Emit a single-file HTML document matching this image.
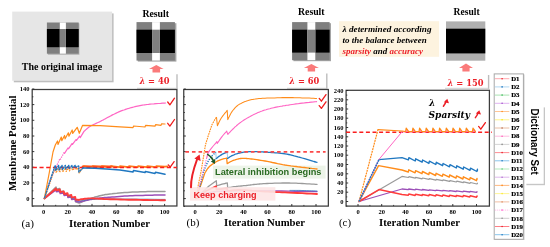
<!DOCTYPE html>
<html><head><meta charset="utf-8"><title>Figure</title><style>html,body{margin:0;padding:0;background:#fff}svg{display:block}</style></head><body>
<svg width="550" height="247" viewBox="0 0 550 247">
<rect width="550" height="247" fill="#fff"/>
<rect x="13.8" y="13.4" width="99.8" height="68.9" fill="#bebebe"/>
<rect x="12.2" y="11.6" width="99.9" height="69.2" fill="#e6e6e6"/>
<rect x="47.8" y="23.4" width="31.6" height="31.4" fill="#b4b4b4"/>
<rect x="46.9" y="22.5" width="31.8" height="31.2" fill="#7f7f7f"/>
<rect x="46.9" y="29.0" width="31.8" height="18.2" fill="#000"/>
<rect x="59.8" y="22.5" width="6.1000000000000085" height="31.2" fill="#fff"/>
<rect x="59.8" y="29.0" width="6.1000000000000085" height="18.2" fill="#7f7f7f"/>
<text x="62" y="69.6" font-family='"Liberation Serif",serif' font-size="10.5" font-weight="bold" font-style="normal" fill="#000" text-anchor="middle" textLength="80.5" lengthAdjust="spacingAndGlyphs" >The original image</text>
<text x="155.7" y="17" font-family='"Liberation Serif",serif' font-size="10.5" font-weight="bold" font-style="normal" fill="#000" text-anchor="middle" textLength="26.6" lengthAdjust="spacingAndGlyphs" >Result</text>
<rect x="137.8" y="23.2" width="38.6" height="38.4" fill="#a4a4a4"/>
<rect x="136.5" y="22.1" width="38.4" height="38.5" fill="#7f7f7f"/>
<rect x="136.5" y="29.700000000000003" width="38.4" height="23.3" fill="#000"/>
<rect x="152.1" y="22.1" width="7.800000000000011" height="38.5" fill="#fff"/>
<rect x="152.1" y="29.700000000000003" width="7.800000000000011" height="23.3" fill="#7f7f7f"/>
<text x="311.3" y="15.4" font-family='"Liberation Serif",serif' font-size="10.5" font-weight="bold" font-style="normal" fill="#000" text-anchor="middle" textLength="26.6" lengthAdjust="spacingAndGlyphs" >Result</text>
<rect x="293.4" y="23.2" width="37.6" height="38" fill="#a4a4a4"/>
<rect x="292.1" y="22.1" width="37.5" height="38.1" fill="#7f7f7f"/>
<rect x="292.1" y="29.700000000000003" width="37.5" height="22.900000000000002" fill="#000"/>
<rect x="307.4" y="22.1" width="7.900000000000034" height="38.1" fill="#fff"/>
<rect x="307.4" y="29.700000000000003" width="7.900000000000034" height="22.900000000000002" fill="#7f7f7f"/>
<text x="466.6" y="15" font-family='"Liberation Serif",serif' font-size="10.5" font-weight="bold" font-style="normal" fill="#000" text-anchor="middle" textLength="26" lengthAdjust="spacingAndGlyphs" >Result</text>
<rect x="446" y="21.4" width="39.3" height="39.3" fill="#b0b0b0"/>
<rect x="446" y="28.7" width="39.3" height="24.699999999999996" fill="#000"/>
<path d="M156.3,65 L163.60000000000002,69 L160.10000000000002,69 L160.10000000000002,72.4 L152.5,72.4 L152.5,69 L149.0,69 Z" fill="#fa7a7a"/>
<path d="M311.4,64 L318.9,68 L315.09999999999997,68 L315.09999999999997,71.6 L307.7,71.6 L307.7,68 L303.9,68 Z" fill="#fa7a7a"/>
<path d="M466,63.6 L473,68 L469.6,68 L469.6,71.6 L462.4,71.6 L462.4,68 L459,68 Z" fill="#fa7a7a"/>
<rect x="136" y="74.2" width="41" height="14.799999999999997" fill="#fff"/>
<line x1="177" y1="74.2" x2="177" y2="89" stroke="#bdbdbd" stroke-width="1.4"/>
<line x1="137" y1="88.3" x2="177" y2="88.3" stroke="#cfcfcf" stroke-width="1"/>
<text x="139.4" y="84.4" font-family='"DejaVu Serif","Liberation Serif",serif' font-size="9.3" font-weight="bold" fill="#ec2028" textLength="30.099999999999994" lengthAdjust="spacingAndGlyphs"><tspan font-style="italic">λ</tspan> = 40</text>
<rect x="286" y="73.6" width="40.80000000000001" height="15.400000000000006" fill="#fff"/>
<line x1="326.8" y1="73.6" x2="326.8" y2="89" stroke="#bdbdbd" stroke-width="1.4"/>
<line x1="287" y1="88.3" x2="326.8" y2="88.3" stroke="#cfcfcf" stroke-width="1"/>
<text x="289.3" y="84.2" font-family='"DejaVu Serif","Liberation Serif",serif' font-size="9.3" font-weight="bold" fill="#ec2028" textLength="30.0" lengthAdjust="spacingAndGlyphs"><tspan font-style="italic">λ</tspan> = 60</text>
<rect x="444" y="75" width="44.60000000000002" height="14" fill="#fff"/>
<line x1="488.6" y1="75" x2="488.6" y2="89" stroke="#bdbdbd" stroke-width="1.4"/>
<line x1="445" y1="88.3" x2="488.6" y2="88.3" stroke="#cfcfcf" stroke-width="1"/>
<text x="447.6" y="85.6" font-family='"DejaVu Serif","Liberation Serif",serif' font-size="9.3" font-weight="bold" fill="#ec2028" textLength="36.0" lengthAdjust="spacingAndGlyphs"><tspan font-style="italic">λ</tspan> = 150</text>
<rect x="339" y="21.2" width="100.1" height="35.6" fill="#fdf3df"/>
<text x="342.6" y="31.6" font-family='"Liberation Serif",serif' font-size="9" font-weight="bold" font-style="italic" fill="#000" text-anchor="start" textLength="89" lengthAdjust="spacingAndGlyphs" >λ determined according</text>
<text x="342.6" y="42.8" font-family='"Liberation Serif",serif' font-size="9" font-weight="bold" font-style="italic" fill="#000" text-anchor="start" textLength="84.2" lengthAdjust="spacingAndGlyphs" >to the balance between</text>
<text x="342.6" y="54" font-family='"Liberation Serif",serif' font-size="9" font-weight="bold" font-style="italic" textLength="80.4" lengthAdjust="spacingAndGlyphs"><tspan fill="#ec2028">sparsity</tspan> and <tspan fill="#ec2028">accuracy</tspan></text>
<rect x="32.2" y="89.5" width="144.7" height="116.5" fill="#fff" stroke="#3c3c3c" stroke-width="1.25"/>
<line x1="32.2" y1="198.6" x2="34.300000000000004" y2="198.6" stroke="#222" stroke-width="0.9"/>
<text x="29.6" y="200.7" font-family='"Liberation Serif",serif' font-size="6.5" font-weight="bold" font-style="normal" fill="#000" text-anchor="end" >0</text>
<line x1="32.2" y1="182.9" x2="34.300000000000004" y2="182.9" stroke="#222" stroke-width="0.9"/>
<text x="29.6" y="185.04" font-family='"Liberation Serif",serif' font-size="6.5" font-weight="bold" font-style="normal" fill="#000" text-anchor="end" >20</text>
<line x1="32.2" y1="167.3" x2="34.300000000000004" y2="167.3" stroke="#222" stroke-width="0.9"/>
<text x="29.6" y="169.38" font-family='"Liberation Serif",serif' font-size="6.5" font-weight="bold" font-style="normal" fill="#000" text-anchor="end" >40</text>
<line x1="32.2" y1="151.6" x2="34.300000000000004" y2="151.6" stroke="#222" stroke-width="0.9"/>
<text x="29.6" y="153.72" font-family='"Liberation Serif",serif' font-size="6.5" font-weight="bold" font-style="normal" fill="#000" text-anchor="end" >60</text>
<line x1="32.2" y1="136.0" x2="34.300000000000004" y2="136.0" stroke="#222" stroke-width="0.9"/>
<text x="29.6" y="138.05999999999997" font-family='"Liberation Serif",serif' font-size="6.5" font-weight="bold" font-style="normal" fill="#000" text-anchor="end" >80</text>
<line x1="32.2" y1="120.3" x2="34.300000000000004" y2="120.3" stroke="#222" stroke-width="0.9"/>
<text x="29.6" y="122.39999999999999" font-family='"Liberation Serif",serif' font-size="6.5" font-weight="bold" font-style="normal" fill="#000" text-anchor="end" >100</text>
<line x1="32.2" y1="104.6" x2="34.300000000000004" y2="104.6" stroke="#222" stroke-width="0.9"/>
<text x="29.6" y="106.73999999999998" font-family='"Liberation Serif",serif' font-size="6.5" font-weight="bold" font-style="normal" fill="#000" text-anchor="end" >120</text>
<line x1="32.2" y1="89.0" x2="34.300000000000004" y2="89.0" stroke="#222" stroke-width="0.9"/>
<text x="29.6" y="91.07999999999998" font-family='"Liberation Serif",serif' font-size="6.5" font-weight="bold" font-style="normal" fill="#000" text-anchor="end" >140</text>
<line x1="32.2" y1="206.4" x2="33.400000000000006" y2="206.4" stroke="#222" stroke-width="0.8"/>
<line x1="32.2" y1="190.8" x2="33.400000000000006" y2="190.8" stroke="#222" stroke-width="0.8"/>
<line x1="32.2" y1="175.1" x2="33.400000000000006" y2="175.1" stroke="#222" stroke-width="0.8"/>
<line x1="32.2" y1="159.4" x2="33.400000000000006" y2="159.4" stroke="#222" stroke-width="0.8"/>
<line x1="32.2" y1="143.8" x2="33.400000000000006" y2="143.8" stroke="#222" stroke-width="0.8"/>
<line x1="32.2" y1="128.1" x2="33.400000000000006" y2="128.1" stroke="#222" stroke-width="0.8"/>
<line x1="32.2" y1="112.5" x2="33.400000000000006" y2="112.5" stroke="#222" stroke-width="0.8"/>
<line x1="32.2" y1="96.8" x2="33.400000000000006" y2="96.8" stroke="#222" stroke-width="0.8"/>
<line x1="43.6" y1="206" x2="43.6" y2="203.9" stroke="#222" stroke-width="0.9"/>
<text x="43.6" y="214.3" font-family='"Liberation Serif",serif' font-size="6.5" font-weight="bold" font-style="normal" fill="#000" text-anchor="middle" >0</text>
<line x1="67.8" y1="206" x2="67.8" y2="203.9" stroke="#222" stroke-width="0.9"/>
<text x="67.8" y="214.3" font-family='"Liberation Serif",serif' font-size="6.5" font-weight="bold" font-style="normal" fill="#000" text-anchor="middle" >20</text>
<line x1="92.0" y1="206" x2="92.0" y2="203.9" stroke="#222" stroke-width="0.9"/>
<text x="92.0" y="214.3" font-family='"Liberation Serif",serif' font-size="6.5" font-weight="bold" font-style="normal" fill="#000" text-anchor="middle" >40</text>
<line x1="116.2" y1="206" x2="116.2" y2="203.9" stroke="#222" stroke-width="0.9"/>
<text x="116.2" y="214.3" font-family='"Liberation Serif",serif' font-size="6.5" font-weight="bold" font-style="normal" fill="#000" text-anchor="middle" >60</text>
<line x1="140.4" y1="206" x2="140.4" y2="203.9" stroke="#222" stroke-width="0.9"/>
<text x="140.4" y="214.3" font-family='"Liberation Serif",serif' font-size="6.5" font-weight="bold" font-style="normal" fill="#000" text-anchor="middle" >80</text>
<line x1="164.6" y1="206" x2="164.6" y2="203.9" stroke="#222" stroke-width="0.9"/>
<text x="164.6" y="214.3" font-family='"Liberation Serif",serif' font-size="6.5" font-weight="bold" font-style="normal" fill="#000" text-anchor="middle" >100</text>
<line x1="55.7" y1="206" x2="55.7" y2="204.8" stroke="#222" stroke-width="0.8"/>
<line x1="79.9" y1="206" x2="79.9" y2="204.8" stroke="#222" stroke-width="0.8"/>
<line x1="104.1" y1="206" x2="104.1" y2="204.8" stroke="#222" stroke-width="0.8"/>
<line x1="128.3" y1="206" x2="128.3" y2="204.8" stroke="#222" stroke-width="0.8"/>
<line x1="152.5" y1="206" x2="152.5" y2="204.8" stroke="#222" stroke-width="0.8"/>
<text transform="translate(16,143.2) rotate(-90)" text-anchor="middle" font-family='"Liberation Serif",serif' font-size="10.5" font-weight="bold" textLength="95.5" lengthAdjust="spacingAndGlyphs">Membrane Potential</text>
<text x="21.6" y="227" font-family='"Liberation Serif",serif' font-size="10.5" font-weight="normal" font-style="normal" fill="#000" text-anchor="start" textLength="12.4" lengthAdjust="spacingAndGlyphs" >(a)</text>
<text x="69" y="226.9" font-family='"Liberation Serif",serif' font-size="11" font-weight="bold" font-style="normal" fill="#000" text-anchor="start" textLength="81" lengthAdjust="spacingAndGlyphs" >Iteration Number</text>
<polyline points="44.4,198.4 56.0,187.0 56.4,189.0 59.8,188.6 60.2,191.6 63.7,191.2 64.1,194.2 67.5,193.8 67.9,196.8 71.3,196.3 71.7,199.3 75.2,198.9 75.6,201.9 79.0,203.0 79.5,203.0 80.3,202.6 81.4,202.2 82.7,201.6 84.1,201.0 85.6,200.3 87.2,199.7 88.6,199.1 90.0,198.6 91.3,198.2 92.5,197.8 93.8,197.4 95.0,197.0 96.3,196.7 97.5,196.4 98.8,196.1 100.0,195.8 101.2,195.5 102.3,195.3 103.3,195.1 104.4,194.8 105.5,194.6 106.8,194.4 108.3,194.2 110.0,194.0 112.0,193.8 114.3,193.5 116.8,193.3 119.4,193.0 122.1,192.8 124.8,192.6 127.4,192.4 130.0,192.2 132.5,192.1 135.1,192.0 137.7,191.9 140.3,191.8 142.9,191.7 145.4,191.7 147.7,191.6 150.0,191.6 152.2,191.6 154.5,191.5 156.7,191.5 158.8,191.5 160.7,191.4 162.4,191.4 163.9,191.4 165.0,191.4" fill="none" stroke="#9a9a9a" stroke-width="1.5" stroke-linejoin="round" stroke-linecap="round" />
<polyline points="44.4,198.4 56.0,190.0 56.4,191.7 59.8,191.2 60.2,193.6 63.7,193.1 64.1,195.5 67.5,195.1 67.9,197.4 71.3,197.0 71.7,199.4 75.2,198.9 75.6,201.3 79.0,202.0 79.5,202.0 80.3,201.8 81.4,201.5 82.7,201.2 84.1,200.9 85.6,200.5 87.2,200.2 88.6,199.9 90.0,199.6 91.3,199.4 92.5,199.1 93.8,198.9 95.0,198.7 96.3,198.5 97.5,198.3 98.8,198.2 100.0,198.0 101.2,197.9 102.3,197.8 103.3,197.7 104.4,197.6 105.5,197.5 106.8,197.4 108.3,197.3 110.0,197.2 112.0,197.0 114.3,196.9 116.8,196.7 119.4,196.5 122.1,196.3 124.8,196.1 127.4,195.9 130.0,195.8 132.5,195.7 135.1,195.6 137.7,195.5 140.3,195.4 142.9,195.4 145.4,195.3 147.7,195.3 150.0,195.2 152.2,195.2 154.5,195.1 156.7,195.1 158.8,195.1 160.7,195.0 162.4,195.0 163.9,195.0 165.0,195.0" fill="none" stroke="#9b4fb8" stroke-width="1.5" stroke-linejoin="round" stroke-linecap="round" />
<polyline points="44.4,198.4 56.0,189.0 56.4,190.7 59.8,190.2 60.2,192.6 63.7,192.1 64.1,194.5 67.5,194.1 67.9,196.4 71.3,196.0 71.7,198.4 75.2,197.9 75.6,200.3 79.0,201.0 79.5,201.0 80.2,200.9 81.2,200.7 82.3,200.5 83.5,200.2 84.9,200.0 86.5,199.8 88.2,199.6 90.0,199.4 91.8,199.3 93.5,199.2 95.3,199.1 97.2,199.1 99.5,199.0 102.3,199.0 105.8,199.0 110.0,199.0 115.6,199.0 122.6,199.1 130.5,199.1 138.8,199.2 146.9,199.2 154.3,199.3 160.5,199.4 165.0,199.4" fill="none" stroke="#1f77c0" stroke-width="0.8" stroke-linejoin="round" stroke-linecap="round" />
<polyline points="44.4,198.4 56.0,188.6 56.4,190.3 59.8,189.5 60.2,192.1 63.7,191.4 64.1,194.0 67.5,193.2 67.9,195.8 71.3,195.0 71.7,197.6 75.2,196.9 75.6,199.5 79.0,200.0 79.5,199.6 80.2,199.5 81.2,199.3 82.3,199.2 83.5,199.0 84.9,198.8 86.5,198.6 88.2,198.5 90.0,198.4 92.0,198.4 94.1,198.5 96.4,198.6 98.8,198.7 101.4,198.8 104.1,199.0 107.0,199.1 110.0,199.2 113.3,199.3 116.9,199.4 120.7,199.5 124.7,199.6 128.7,199.7 132.6,199.8 136.4,199.8 140.0,199.9 143.5,200.0 147.2,200.0 150.8,200.1 154.4,200.1 157.7,200.1 160.6,200.2 163.1,200.2 165.0,200.2" fill="none" stroke="#ff3b3b" stroke-width="1.9" stroke-linejoin="round" stroke-linecap="round" />
<polyline points="44.4,198.4 50.0,181.0 56.5,166.0 60.0,158.4 60.5,159.2 64.0,152.6 64.5,153.4" fill="none" stroke="#ff66c4" stroke-width="1.2" stroke-linejoin="round" stroke-linecap="butt" stroke-dasharray="1.3 1.1" />
<polyline points="64.5,153.4 68.0,148.0 68.5,148.8 72.0,143.6 72.5,144.4 76.0,139.6 76.5,140.4 79.6,136.2 80.2,137.6 84.0,131.4 84.0,131.4 84.4,131.0 85.0,130.5 85.6,129.9 86.4,129.2 87.2,128.5 88.1,127.8 89.0,127.0 90.0,126.4 91.1,125.8 92.2,125.2 93.5,124.6 94.8,124.0 96.1,123.4 97.4,122.8 98.7,122.2 100.0,121.6 101.2,120.9 102.5,120.3 103.8,119.6 105.0,118.9 106.2,118.2 107.5,117.5 108.8,116.9 110.0,116.2 111.2,115.6 112.5,114.9 113.8,114.3 115.0,113.7 116.2,113.1 117.5,112.5 118.8,111.9 120.0,111.4 121.2,110.9 122.5,110.4 123.8,110.0 125.0,109.6 126.2,109.1 127.5,108.7 128.8,108.4 130.0,108.0 131.2,107.6 132.5,107.3 133.8,107.0 135.0,106.7 136.2,106.4 137.5,106.1 138.8,105.8 140.0,105.6 141.2,105.4 142.4,105.2 143.5,105.0 144.7,104.8 145.8,104.7 147.1,104.5 148.5,104.4 150.0,104.2 151.8,104.0 153.9,103.9 156.1,103.7 158.4,103.5 160.6,103.4 162.7,103.2 164.4,103.1 165.6,103.0" fill="none" stroke="#ff66c4" stroke-width="1.2" stroke-linejoin="round" stroke-linecap="round" />
<polyline points="44.4,198.4 49.4,172.0 53.0,152.0 55.3,145.0 57.5,141.0 58.0,144.4 61.3,137.1 61.8,140.6 64.6,135.5 65.1,138.8 68.4,132.8 68.9,136.2 72.2,130.0 72.7,133.4 77.2,127.3 79.3,133.3 82.6,125.3 100.0,125.6 120.0,126.8 133.0,127.6 133.6,126.0 145.0,127.0 145.6,125.4 155.0,126.2 155.6,124.6 161.0,125.4 161.6,123.8 165.0,124.0" fill="none" stroke="#ff8c1a" stroke-width="1.2" stroke-linejoin="round" stroke-linecap="round" />
<polyline points="44.4,198.4 49.6,184.0 53.0,173.6 55.6,167.2 55.6,167.2 56.1,172.8 59.0,167.2 59.5,172.4 62.3,167.2 62.8,172.0 65.7,167.2 66.2,171.4 69.0,167.2 69.5,170.8 72.3,167.2 72.8,170.2 75.7,167.2 76.2,169.6 79.0,167.8 79.2,173.0 83.2,166.8" fill="none" stroke="#ff8c1a" stroke-width="1.2" stroke-linejoin="round" stroke-linecap="butt" stroke-dasharray="1.3 0.9" />
<polyline points="83.2,166.7 83.6,166.2 92.3,167.1 92.7,166.2 101.4,167.1 101.8,166.2 110.5,167.1 110.9,166.2 119.6,167.1 120.0,166.2 128.6,167.1 129.0,166.2 137.7,167.1 138.1,166.2 146.8,167.1 147.2,166.2 155.9,167.1 156.3,166.2 165.0,166.6 167.4,166.4" fill="none" stroke="#ff7a1a" stroke-width="1.7" stroke-linejoin="round" stroke-linecap="round" />
<polyline points="82.6,166.6 112.0,166.6" fill="none" stroke="#ff5a1a" stroke-width="2.0" stroke-linejoin="round" stroke-linecap="round" />
<line x1="32.800000000000004" y1="167.45" x2="176.9" y2="167.45" stroke="#fa1e1e" stroke-width="1.4" stroke-dasharray="4.1 2.6"/>
<polyline points="44.4,198.4 49.0,184.0 52.4,173.6 55.3,165.4 55.3,165.4 55.8,170.4 58.6,165.4 59.1,170.0 62.0,165.4 62.5,169.6 65.3,165.4 65.8,169.0 68.7,165.4 69.2,168.4 72.0,165.4 72.5,167.8 75.4,165.4 75.9,167.2 78.7,166.0 78.8,172.0 83.2,167.8" fill="none" stroke="#1f77c0" stroke-width="1.4" stroke-linejoin="round" stroke-linecap="butt" stroke-dasharray="2.4 0.5" />
<polyline points="83.2,167.9 95.0,168.3 110.0,169.3 120.0,170.0 133.0,172.0 133.5,170.6 145.0,172.6 145.5,171.4 155.0,173.4 155.5,172.2 165.0,174.3" fill="none" stroke="#1f77c0" stroke-width="1.5" stroke-linejoin="round" stroke-linecap="round" />
<path d="M167.70000000000002,102.0 L169.9,104.8 L174.5,98.2" fill="none" stroke="#f01c1c" stroke-width="1.3" stroke-linecap="round" stroke-linejoin="round"/>
<path d="M167.70000000000002,123.3 L169.9,126.1 L174.5,119.5" fill="none" stroke="#f01c1c" stroke-width="1.3" stroke-linecap="round" stroke-linejoin="round"/>
<path d="M168.32999999999998,164.82 L170.2,167.2 L174.10999999999999,161.58999999999997" fill="none" stroke="#f01c1c" stroke-width="1.3" stroke-linecap="round" stroke-linejoin="round"/>
<rect x="183.75" y="89.5" width="144.60000000000002" height="116.6" fill="#fff" stroke="#3c3c3c" stroke-width="1.25"/>
<line x1="183.75" y1="198.6" x2="185.85" y2="198.6" stroke="#222" stroke-width="0.9"/>
<line x1="183.75" y1="182.9" x2="185.85" y2="182.9" stroke="#222" stroke-width="0.9"/>
<line x1="183.75" y1="167.3" x2="185.85" y2="167.3" stroke="#222" stroke-width="0.9"/>
<line x1="183.75" y1="151.6" x2="185.85" y2="151.6" stroke="#222" stroke-width="0.9"/>
<line x1="183.75" y1="136.0" x2="185.85" y2="136.0" stroke="#222" stroke-width="0.9"/>
<line x1="183.75" y1="120.3" x2="185.85" y2="120.3" stroke="#222" stroke-width="0.9"/>
<line x1="183.75" y1="104.6" x2="185.85" y2="104.6" stroke="#222" stroke-width="0.9"/>
<line x1="183.75" y1="89.0" x2="185.85" y2="89.0" stroke="#222" stroke-width="0.9"/>
<line x1="183.75" y1="206.4" x2="184.95" y2="206.4" stroke="#222" stroke-width="0.8"/>
<line x1="183.75" y1="190.8" x2="184.95" y2="190.8" stroke="#222" stroke-width="0.8"/>
<line x1="183.75" y1="175.1" x2="184.95" y2="175.1" stroke="#222" stroke-width="0.8"/>
<line x1="183.75" y1="159.4" x2="184.95" y2="159.4" stroke="#222" stroke-width="0.8"/>
<line x1="183.75" y1="143.8" x2="184.95" y2="143.8" stroke="#222" stroke-width="0.8"/>
<line x1="183.75" y1="128.1" x2="184.95" y2="128.1" stroke="#222" stroke-width="0.8"/>
<line x1="183.75" y1="112.5" x2="184.95" y2="112.5" stroke="#222" stroke-width="0.8"/>
<line x1="183.75" y1="96.8" x2="184.95" y2="96.8" stroke="#222" stroke-width="0.8"/>
<line x1="195.0" y1="206.1" x2="195.0" y2="204.0" stroke="#222" stroke-width="0.9"/>
<text x="195.0" y="214.3" font-family='"Liberation Serif",serif' font-size="6.5" font-weight="bold" font-style="normal" fill="#000" text-anchor="middle" >0</text>
<line x1="219.2" y1="206.1" x2="219.2" y2="204.0" stroke="#222" stroke-width="0.9"/>
<text x="219.2" y="214.3" font-family='"Liberation Serif",serif' font-size="6.5" font-weight="bold" font-style="normal" fill="#000" text-anchor="middle" >20</text>
<line x1="243.4" y1="206.1" x2="243.4" y2="204.0" stroke="#222" stroke-width="0.9"/>
<text x="243.4" y="214.3" font-family='"Liberation Serif",serif' font-size="6.5" font-weight="bold" font-style="normal" fill="#000" text-anchor="middle" >40</text>
<line x1="267.6" y1="206.1" x2="267.6" y2="204.0" stroke="#222" stroke-width="0.9"/>
<text x="267.6" y="214.3" font-family='"Liberation Serif",serif' font-size="6.5" font-weight="bold" font-style="normal" fill="#000" text-anchor="middle" >60</text>
<line x1="291.8" y1="206.1" x2="291.8" y2="204.0" stroke="#222" stroke-width="0.9"/>
<text x="291.8" y="214.3" font-family='"Liberation Serif",serif' font-size="6.5" font-weight="bold" font-style="normal" fill="#000" text-anchor="middle" >80</text>
<line x1="316.0" y1="206.1" x2="316.0" y2="204.0" stroke="#222" stroke-width="0.9"/>
<text x="316.0" y="214.3" font-family='"Liberation Serif",serif' font-size="6.5" font-weight="bold" font-style="normal" fill="#000" text-anchor="middle" >100</text>
<line x1="207.1" y1="206.1" x2="207.1" y2="204.9" stroke="#222" stroke-width="0.8"/>
<line x1="231.3" y1="206.1" x2="231.3" y2="204.9" stroke="#222" stroke-width="0.8"/>
<line x1="255.5" y1="206.1" x2="255.5" y2="204.9" stroke="#222" stroke-width="0.8"/>
<line x1="279.7" y1="206.1" x2="279.7" y2="204.9" stroke="#222" stroke-width="0.8"/>
<line x1="303.9" y1="206.1" x2="303.9" y2="204.9" stroke="#222" stroke-width="0.8"/>
<text x="186.6" y="226.4" font-family='"Liberation Serif",serif' font-size="10.5" font-weight="normal" font-style="normal" fill="#000" text-anchor="start" textLength="12.8" lengthAdjust="spacingAndGlyphs" >(b)</text>
<text x="224" y="225.5" font-family='"Liberation Serif",serif' font-size="11" font-weight="bold" font-style="normal" fill="#000" text-anchor="start" textLength="81" lengthAdjust="spacingAndGlyphs" >Iteration Number</text>
<rect x="213" y="165.6" width="112.6" height="13" fill="#edf4e9"/>
<polyline points="196.0,198.4 208.7,186.2 216.3,180.7 216.7,185.8 216.7,185.8 217.7,185.5 219.0,185.1 220.6,184.6 222.0,184.2 223.4,183.8 225.0,183.5 226.3,183.2 227.3,183.0 227.7,187.8 227.7,187.8 228.2,187.7 228.9,187.6 229.8,187.4 230.7,187.3 231.7,187.1 232.8,186.9 233.9,186.7 235.0,186.6 236.1,186.5 237.3,186.3 238.6,186.2 239.8,186.1 241.1,186.0 242.4,185.9 243.7,185.7 245.0,185.6 246.2,185.5 247.5,185.3 248.8,185.1 250.0,185.0 251.2,184.8 252.5,184.7 253.8,184.5 255.0,184.4 256.2,184.3 257.3,184.2 258.3,184.1 259.4,184.0 260.5,183.9 261.8,183.8 263.3,183.7 265.0,183.6 267.1,183.5 269.4,183.4 272.0,183.3 274.7,183.2 277.4,183.1 280.1,183.1 282.7,183.0 285.0,183.0 287.1,183.0 289.1,183.0 290.9,183.1 292.7,183.1 294.4,183.2 296.2,183.2 298.1,183.3 300.0,183.4 302.1,183.5 304.5,183.6 307.0,183.8 309.4,183.9 311.8,184.1 313.9,184.2 315.7,184.3 317.0,184.4" fill="none" stroke="#9a9a9a" stroke-width="1.3" stroke-linejoin="round" stroke-linecap="round" />
<polyline points="196.0,198.4 205.0,193.6 205.8,193.4 206.7,193.2 207.7,193.0 209.0,192.7 210.4,192.4 212.1,192.1 213.9,191.8 216.0,191.6 218.3,191.4 220.9,191.3 223.8,191.1 226.8,191.0 230.0,190.8 233.3,190.7 236.6,190.7 240.0,190.6 243.3,190.6 246.7,190.6 250.1,190.6 253.6,190.6 257.2,190.6 261.2,190.7 265.4,190.7 270.0,190.8 275.4,190.9 281.7,191.0 288.4,191.1 295.4,191.2 302.1,191.3 308.2,191.4 313.3,191.5 317.0,191.6" fill="none" stroke="#9b4fb8" stroke-width="1.4" stroke-linejoin="round" stroke-linecap="round" />
<polyline points="290.0,190.4 290.7,190.4 291.6,190.4 292.7,190.4 293.9,190.4 295.3,190.4 296.8,190.4 298.3,190.4 300.0,190.4 301.9,190.5 304.2,190.5 306.6,190.6 309.1,190.7 311.6,190.8 313.8,190.9 315.6,190.9 317.0,191.0" fill="none" stroke="#1f77c0" stroke-width="0.7" stroke-linejoin="round" stroke-linecap="round" />
<polyline points="196.0,198.4 206.0,191.0 216.0,186.2 216.5,189.5 227.0,188.4 227.5,190.6 227.5,191.0 228.4,190.9 229.5,190.8 230.7,190.6 232.2,190.4 233.8,190.2 235.7,190.1 237.8,190.0 240.0,190.0 242.6,190.1 245.5,190.2 248.7,190.4 252.0,190.7 255.4,190.9 258.8,191.2 262.0,191.4 265.0,191.6 267.7,191.7 270.1,191.8 272.3,191.9 274.6,192.0 276.8,192.1 279.3,192.2 282.0,192.3 285.0,192.4 288.6,192.6 292.9,192.8 297.5,193.0 302.2,193.2 306.8,193.5 311.0,193.7 314.4,193.9 317.0,194.0" fill="none" stroke="#ff3b3b" stroke-width="1.8" stroke-linejoin="round" stroke-linecap="round" />
<polyline points="196.0,198.4 200.8,185.0 205.0,172.6 205.0,172.6 205.7,171.6 206.6,170.1 207.7,168.5 209.0,167.0 210.5,165.6 212.3,164.3 214.1,163.1 215.8,162.0 217.2,161.2 218.5,160.6 219.7,160.1 221.0,159.6 222.5,159.1 224.1,158.6 225.6,158.3 226.6,158.0 227.2,163.6 227.2,163.6 227.6,163.4 228.0,163.1 228.6,162.8 229.2,162.4 229.9,162.0 230.6,161.7 231.3,161.3 232.0,161.0 232.7,160.7 233.4,160.4 234.2,160.1 235.0,159.9 235.8,159.6 236.5,159.4 237.3,159.2 238.0,159.0 238.7,158.9 239.3,158.7 239.9,158.6 240.4,158.5 241.0,158.5 241.6,158.4 242.3,158.4 243.0,158.4 243.7,158.4 244.4,158.4 245.1,158.4 245.9,158.4 246.7,158.5 247.6,158.6 248.7,158.7 250.0,158.8 251.5,159.0 253.1,159.2 254.8,159.4 256.7,159.7 258.7,160.0 260.7,160.3 262.8,160.6 265.0,161.0 267.3,161.4 269.8,161.9 272.4,162.5 275.0,163.0 277.6,163.6 280.2,164.1 282.7,164.6 285.0,165.0 287.1,165.3 289.1,165.6 290.9,165.9 292.7,166.1 294.4,166.3 296.2,166.5 298.1,166.8 300.0,167.0 302.1,167.3 304.5,167.5 307.0,167.8 309.4,168.1 311.8,168.4 313.9,168.6 315.7,168.8 317.0,169.0" fill="none" stroke="#ff8c1a" stroke-width="1.3" stroke-linejoin="round" stroke-linecap="round" />
<polyline points="196.0,198.4 200.3,185.0 203.4,172.0 203.4,172.0 204.0,170.4 205.0,168.1 206.0,165.6 207.0,163.4 208.0,161.6 208.9,160.0 209.9,158.4 211.0,157.0 212.3,155.6 213.7,154.2 214.9,153.0 215.8,152.2" fill="none" stroke="#1f77c0" stroke-width="1.4" stroke-linejoin="round" stroke-linecap="butt" stroke-dasharray="1.2 1.2" />
<polyline points="215.8,152.2 216.2,158.6" fill="none" stroke="#5aa9dc" stroke-width="0.6" stroke-linejoin="round" stroke-linecap="round" />
<polyline points="216.2,158.6 216.7,158.2 217.3,157.7 218.1,157.0 219.0,156.4 219.9,155.8 220.9,155.1 222.0,154.4 223.0,153.8 224.1,153.3 225.3,152.8 226.4,152.5 227.2,152.2" fill="none" stroke="#1f77c0" stroke-width="1.3" stroke-linejoin="round" stroke-linecap="round" />
<polyline points="227.2,152.2 227.6,158.4" fill="none" stroke="#5aa9dc" stroke-width="0.6" stroke-linejoin="round" stroke-linecap="round" />
<polyline points="227.6,158.4 227.9,158.2 228.2,158.0 228.6,157.7 229.0,157.4 229.5,157.1 230.0,156.8 230.5,156.5 231.0,156.2 231.5,155.9 232.1,155.6 232.7,155.3 233.3,155.1 234.0,154.8 234.6,154.5 235.3,154.2 236.0,154.0 236.7,153.8 237.4,153.6 238.1,153.4 238.9,153.2 239.6,153.0 240.4,152.8 241.2,152.6 242.0,152.5 242.8,152.4 243.6,152.2 244.4,152.1 245.2,152.0 246.0,151.9 246.9,151.8 247.9,151.8 249.0,151.7 250.2,151.7 251.5,151.6 252.9,151.6 254.3,151.7 255.8,151.7 257.2,151.7 258.6,151.8 260.0,151.8 261.3,151.8 262.5,151.9 263.6,152.0 264.8,152.0 265.9,152.1 267.2,152.2 268.5,152.3 270.0,152.4 271.6,152.5 273.4,152.6 275.3,152.8 277.2,152.9 279.2,153.1 281.1,153.3 283.1,153.5 285.0,153.8 286.9,154.1 288.7,154.5 290.5,154.9 292.4,155.4 294.2,155.9 296.1,156.3 298.0,156.9 300.0,157.4 302.1,158.0 304.5,158.7 307.0,159.4 309.4,160.1 311.8,160.8 313.9,161.5 315.7,162.0 317.0,162.4" fill="none" stroke="#1f77c0" stroke-width="1.3" stroke-linejoin="round" stroke-linecap="round" />
<line x1="183.75" y1="151.95" x2="325.6" y2="151.95" stroke="#fb4848" stroke-width="1.7" stroke-dasharray="3.6 2.95" stroke-dashoffset="4.9"/>
<polyline points="196.0,198.4 202.0,176.0 202.6,173.6 203.5,170.2 204.5,166.4 205.4,163.0 206.1,160.2 206.8,157.5" fill="none" stroke="#ff66c4" stroke-width="1.0" stroke-linejoin="round" stroke-linecap="butt" stroke-dasharray="1.2 1.2" />
<polyline points="206.8,157.5 207.5,154.9 208.4,152.6 209.7,150.4 211.3,148.4 212.8,146.5 214.1,145.0 215.1,143.8 215.9,142.8 216.5,142.0 216.9,141.5 217.2,143.5 217.2,143.5 218.1,142.2 219.3,140.4 220.7,138.4 222.0,136.6 223.3,135.0 224.7,133.4 225.9,132.1 226.7,131.1 227.8,134.4 227.8,134.4 228.2,134.0 228.7,133.4 229.4,132.7 230.1,132.0 230.8,131.2 231.6,130.4 232.3,129.7 233.0,129.0 233.6,128.4 234.2,127.8 234.8,127.2 235.4,126.6 236.1,126.1 236.7,125.5 237.3,125.0 238.0,124.4 238.7,123.8 239.4,123.3 240.1,122.7 240.9,122.2 241.6,121.6 242.4,121.1 243.2,120.5 244.0,120.0 244.8,119.5 245.7,119.0 246.6,118.4 247.4,117.9 248.3,117.4 249.2,116.9 250.1,116.5 251.0,116.0 251.9,115.5 252.8,115.1 253.6,114.6 254.5,114.2 255.4,113.8 256.2,113.4 257.1,113.0 258.0,112.6 258.9,112.2 259.7,111.9 260.5,111.6 261.3,111.2 262.2,110.9 263.0,110.6 264.0,110.3 265.0,110.0 266.1,109.7 267.3,109.3 268.5,109.0 269.8,108.7 271.1,108.3 272.4,108.0 273.7,107.7 275.0,107.4 276.2,107.1 277.4,106.9 278.5,106.7 279.7,106.5 280.9,106.3 282.1,106.1 283.5,105.8 285.0,105.6 286.6,105.3 288.4,105.1 290.2,104.8 292.1,104.5 294.0,104.2 296.0,103.9 298.0,103.7 300.0,103.4 302.1,103.1 304.4,102.9 306.8,102.6 309.2,102.4 311.5,102.1 313.6,101.9 315.3,101.7 316.6,101.6" fill="none" stroke="#ff66c4" stroke-width="1.1" stroke-linejoin="round" stroke-linecap="round" />
<polyline points="196.0,198.4 198.3,185.0 201.0,172.0 204.3,152.0 205.4,145.0 208.7,134.4 212.0,124.6 215.8,118.0 216.5,117.4" fill="none" stroke="#ff8c1a" stroke-width="1.1" stroke-linejoin="round" stroke-linecap="butt" stroke-dasharray="1.7 0.8" />
<polyline points="216.5,117.4 217.4,125.7 217.4,125.7 218.1,124.3 219.0,122.3 220.1,120.1 221.3,118.0 222.8,115.9 224.5,113.7 226.1,111.8 227.2,110.4 227.8,119.6 228.0,119.0 228.3,118.4 228.7,117.6 229.2,116.7 229.7,115.7 230.3,114.6 230.8,113.5 231.4,112.5 232.0,111.6 232.6,110.8 233.2,110.0 233.8,109.3 234.4,108.6 235.0,107.9 235.7,107.2 236.3,106.6 237.0,106.0 237.7,105.4 238.4,104.9 239.2,104.4 239.9,104.0 240.7,103.6 241.5,103.2 242.2,102.8 243.0,102.4 243.7,102.1 244.5,101.7 245.2,101.4 245.9,101.2 246.6,100.9 247.4,100.7 248.2,100.4 249.0,100.2 249.9,100.0 250.9,99.8 251.9,99.6 252.9,99.4 253.9,99.2 255.0,99.1 256.0,98.9 257.0,98.8 257.9,98.7 258.7,98.6 259.5,98.5 260.2,98.5 261.1,98.4 262.2,98.3 263.4,98.3 265.0,98.2 267.0,98.1 269.3,98.0 271.8,97.9 274.6,97.9 277.3,97.8 280.1,97.7 282.7,97.6 285.0,97.6 287.1,97.6 289.1,97.6 290.9,97.6 292.7,97.6 294.5,97.7 296.3,97.7 298.1,97.8 300.0,97.8 302.1,97.9 304.4,97.9 306.8,98.0 309.2,98.1 311.5,98.2 313.6,98.3 315.3,98.4 316.6,98.4" fill="none" stroke="#ff8c1a" stroke-width="1.05" stroke-linejoin="round" stroke-linecap="round" />
<rect x="190" y="187.2" width="85.4" height="13.4" fill="#fde6e6" fill-opacity="0.9"/>
<path d="M191,187.3 C190.8,180 192.4,172 197.2,159" fill="none" stroke="#ec2028" stroke-width="2" stroke-linecap="round"/>
<path d="M199.6,154.4 L200.6,161 L194.4,158.4 Z" fill="#ec2028"/>
<path d="M207.6,154.3 C210,155.6 212.4,158.4 213.4,160.6" fill="none" stroke="#1e5a28" stroke-width="1.5" stroke-linecap="round"/>
<path d="M214.9,164 L210.8,161.4 L215.4,158.8 Z" fill="#1e5a28"/>
<text x="215" y="175" font-family='"Liberation Sans",sans-serif' font-size="9.2" font-weight="bold" font-style="normal" fill="#2a6b22" text-anchor="start" textLength="106.5" lengthAdjust="spacingAndGlyphs" >Lateral inhibition begins</text>
<text x="193.4" y="198" font-family='"Liberation Sans",sans-serif' font-size="9" font-weight="bold" font-style="normal" fill="#ec2028" text-anchor="start" textLength="63.2" lengthAdjust="spacingAndGlyphs" >Keep charging</text>
<path d="M319.2,98.4 L321.4,101.2 L326.0,94.60000000000001" fill="none" stroke="#f01c1c" stroke-width="1.3" stroke-linecap="round" stroke-linejoin="round"/>
<path d="M319.2,105.60000000000001 L321.4,108.4 L326.0,101.80000000000001" fill="none" stroke="#f01c1c" stroke-width="1.3" stroke-linecap="round" stroke-linejoin="round"/>
<rect x="346.1" y="90.3" width="143.29999999999995" height="115.8" fill="#fff" stroke="#3c3c3c" stroke-width="1.25"/>
<line x1="346.1" y1="201.5" x2="348.20000000000005" y2="201.5" stroke="#222" stroke-width="0.9"/>
<text x="343.4" y="203.6" font-family='"Liberation Serif",serif' font-size="6.5" font-weight="bold" font-style="normal" fill="#000" text-anchor="end" >0</text>
<line x1="346.1" y1="192.2" x2="348.20000000000005" y2="192.2" stroke="#222" stroke-width="0.9"/>
<text x="343.4" y="194.35" font-family='"Liberation Serif",serif' font-size="6.5" font-weight="bold" font-style="normal" fill="#000" text-anchor="end" >20</text>
<line x1="346.1" y1="183.0" x2="348.20000000000005" y2="183.0" stroke="#222" stroke-width="0.9"/>
<text x="343.4" y="185.1" font-family='"Liberation Serif",serif' font-size="6.5" font-weight="bold" font-style="normal" fill="#000" text-anchor="end" >40</text>
<line x1="346.1" y1="173.8" x2="348.20000000000005" y2="173.8" stroke="#222" stroke-width="0.9"/>
<text x="343.4" y="175.85" font-family='"Liberation Serif",serif' font-size="6.5" font-weight="bold" font-style="normal" fill="#000" text-anchor="end" >60</text>
<line x1="346.1" y1="164.5" x2="348.20000000000005" y2="164.5" stroke="#222" stroke-width="0.9"/>
<text x="343.4" y="166.6" font-family='"Liberation Serif",serif' font-size="6.5" font-weight="bold" font-style="normal" fill="#000" text-anchor="end" >80</text>
<line x1="346.1" y1="155.2" x2="348.20000000000005" y2="155.2" stroke="#222" stroke-width="0.9"/>
<text x="343.4" y="157.35" font-family='"Liberation Serif",serif' font-size="6.5" font-weight="bold" font-style="normal" fill="#000" text-anchor="end" >100</text>
<line x1="346.1" y1="146.0" x2="348.20000000000005" y2="146.0" stroke="#222" stroke-width="0.9"/>
<text x="343.4" y="148.1" font-family='"Liberation Serif",serif' font-size="6.5" font-weight="bold" font-style="normal" fill="#000" text-anchor="end" >120</text>
<line x1="346.1" y1="136.8" x2="348.20000000000005" y2="136.8" stroke="#222" stroke-width="0.9"/>
<text x="343.4" y="138.85" font-family='"Liberation Serif",serif' font-size="6.5" font-weight="bold" font-style="normal" fill="#000" text-anchor="end" >140</text>
<line x1="346.1" y1="127.5" x2="348.20000000000005" y2="127.5" stroke="#222" stroke-width="0.9"/>
<text x="343.4" y="129.6" font-family='"Liberation Serif",serif' font-size="6.5" font-weight="bold" font-style="normal" fill="#000" text-anchor="end" >160</text>
<line x1="346.1" y1="118.2" x2="348.20000000000005" y2="118.2" stroke="#222" stroke-width="0.9"/>
<text x="343.4" y="120.35" font-family='"Liberation Serif",serif' font-size="6.5" font-weight="bold" font-style="normal" fill="#000" text-anchor="end" >180</text>
<line x1="346.1" y1="109.0" x2="348.20000000000005" y2="109.0" stroke="#222" stroke-width="0.9"/>
<text x="343.4" y="111.1" font-family='"Liberation Serif",serif' font-size="6.5" font-weight="bold" font-style="normal" fill="#000" text-anchor="end" >200</text>
<line x1="346.1" y1="99.8" x2="348.20000000000005" y2="99.8" stroke="#222" stroke-width="0.9"/>
<text x="343.4" y="101.85" font-family='"Liberation Serif",serif' font-size="6.5" font-weight="bold" font-style="normal" fill="#000" text-anchor="end" >220</text>
<line x1="346.1" y1="90.5" x2="348.20000000000005" y2="90.5" stroke="#222" stroke-width="0.9"/>
<text x="343.4" y="92.6" font-family='"Liberation Serif",serif' font-size="6.5" font-weight="bold" font-style="normal" fill="#000" text-anchor="end" >240</text>
<line x1="346.1" y1="206.1" x2="347.3" y2="206.1" stroke="#222" stroke-width="0.8"/>
<line x1="346.1" y1="196.9" x2="347.3" y2="196.9" stroke="#222" stroke-width="0.8"/>
<line x1="346.1" y1="187.6" x2="347.3" y2="187.6" stroke="#222" stroke-width="0.8"/>
<line x1="346.1" y1="178.4" x2="347.3" y2="178.4" stroke="#222" stroke-width="0.8"/>
<line x1="346.1" y1="169.1" x2="347.3" y2="169.1" stroke="#222" stroke-width="0.8"/>
<line x1="346.1" y1="159.9" x2="347.3" y2="159.9" stroke="#222" stroke-width="0.8"/>
<line x1="346.1" y1="150.6" x2="347.3" y2="150.6" stroke="#222" stroke-width="0.8"/>
<line x1="346.1" y1="141.4" x2="347.3" y2="141.4" stroke="#222" stroke-width="0.8"/>
<line x1="346.1" y1="132.1" x2="347.3" y2="132.1" stroke="#222" stroke-width="0.8"/>
<line x1="346.1" y1="122.9" x2="347.3" y2="122.9" stroke="#222" stroke-width="0.8"/>
<line x1="346.1" y1="113.6" x2="347.3" y2="113.6" stroke="#222" stroke-width="0.8"/>
<line x1="346.1" y1="104.4" x2="347.3" y2="104.4" stroke="#222" stroke-width="0.8"/>
<line x1="346.1" y1="95.1" x2="347.3" y2="95.1" stroke="#222" stroke-width="0.8"/>
<line x1="358.0" y1="206.1" x2="358.0" y2="204.0" stroke="#222" stroke-width="0.9"/>
<text x="358.0" y="214.3" font-family='"Liberation Serif",serif' font-size="6.5" font-weight="bold" font-style="normal" fill="#000" text-anchor="middle" >0</text>
<line x1="381.7" y1="206.1" x2="381.7" y2="204.0" stroke="#222" stroke-width="0.9"/>
<text x="381.7" y="214.3" font-family='"Liberation Serif",serif' font-size="6.5" font-weight="bold" font-style="normal" fill="#000" text-anchor="middle" >20</text>
<line x1="405.4" y1="206.1" x2="405.4" y2="204.0" stroke="#222" stroke-width="0.9"/>
<text x="405.4" y="214.3" font-family='"Liberation Serif",serif' font-size="6.5" font-weight="bold" font-style="normal" fill="#000" text-anchor="middle" >40</text>
<line x1="429.1" y1="206.1" x2="429.1" y2="204.0" stroke="#222" stroke-width="0.9"/>
<text x="429.1" y="214.3" font-family='"Liberation Serif",serif' font-size="6.5" font-weight="bold" font-style="normal" fill="#000" text-anchor="middle" >60</text>
<line x1="452.8" y1="206.1" x2="452.8" y2="204.0" stroke="#222" stroke-width="0.9"/>
<text x="452.8" y="214.3" font-family='"Liberation Serif",serif' font-size="6.5" font-weight="bold" font-style="normal" fill="#000" text-anchor="middle" >80</text>
<line x1="476.5" y1="206.1" x2="476.5" y2="204.0" stroke="#222" stroke-width="0.9"/>
<text x="476.5" y="214.3" font-family='"Liberation Serif",serif' font-size="6.5" font-weight="bold" font-style="normal" fill="#000" text-anchor="middle" >100</text>
<line x1="369.9" y1="206.1" x2="369.9" y2="204.9" stroke="#222" stroke-width="0.8"/>
<line x1="393.6" y1="206.1" x2="393.6" y2="204.9" stroke="#222" stroke-width="0.8"/>
<line x1="417.2" y1="206.1" x2="417.2" y2="204.9" stroke="#222" stroke-width="0.8"/>
<line x1="440.9" y1="206.1" x2="440.9" y2="204.9" stroke="#222" stroke-width="0.8"/>
<line x1="464.6" y1="206.1" x2="464.6" y2="204.9" stroke="#222" stroke-width="0.8"/>
<text x="339" y="226.2" font-family='"Liberation Serif",serif' font-size="10.5" font-weight="normal" font-style="normal" fill="#000" text-anchor="start" textLength="12" lengthAdjust="spacingAndGlyphs" >(c)</text>
<text x="379" y="226.1" font-family='"Liberation Serif",serif' font-size="11" font-weight="bold" font-style="normal" fill="#000" text-anchor="start" textLength="81" lengthAdjust="spacingAndGlyphs" >Iteration Number</text>
<polyline points="359.0,201.5 402.0,176.4 408.4,177.5 408.9,176.7 415.2,178.1 415.7,177.3 422.1,178.8 422.6,178.0 428.9,179.4 429.4,178.6 435.8,180.1 436.3,179.3 442.6,180.7 443.1,179.9 449.5,181.4 450.0,180.6 456.3,182.0 456.8,181.2 463.2,182.7 463.7,181.9 470.0,183.3 470.5,182.5 476.9,184.0 477.4,183.2 477.4,183.6" fill="none" stroke="#9a9a9a" stroke-width="1.2" stroke-linejoin="round" stroke-linecap="round" />
<polyline points="359.0,201.5 402.0,189.0 408.3,189.6 408.8,189.0 415.1,189.8 415.6,189.2 422.0,190.1 422.5,189.5 428.8,190.4 429.3,189.8 435.6,190.7 436.1,190.1 442.4,190.9 442.9,190.3 449.2,191.2 449.7,190.6 456.0,191.5 456.5,190.9 462.9,191.8 463.4,191.2 469.7,192.0 470.2,191.4 476.5,192.3 477.0,191.7 477.0,192.0" fill="none" stroke="#9b4fb8" stroke-width="1.3" stroke-linejoin="round" stroke-linecap="round" />
<polyline points="359.0,201.5 379.0,189.6 402.0,194.4 408.3,195.2 408.8,194.0 415.1,195.4 415.6,194.2 422.0,195.6 422.5,194.4 428.8,195.8 429.3,194.6 435.6,196.0 436.1,194.8 442.4,196.2 442.9,195.0 449.2,196.4 449.7,195.2 456.0,196.6 456.5,195.4 462.9,196.8 463.4,195.6 469.7,197.0 470.2,195.8 476.5,197.2 477.0,196.0 477.0,196.6" fill="none" stroke="#ff3b3b" stroke-width="1.5" stroke-linejoin="round" stroke-linecap="round" />
<polyline points="359.0,201.5 378.6,165.6 402.0,170.0 408.3,172.0 408.8,169.8 415.1,172.8 415.6,170.6 422.0,173.7 422.5,171.5 428.8,174.6 429.3,172.4 435.6,175.5 436.1,173.3 442.4,176.3 442.9,174.1 449.2,177.2 449.7,175.0 456.0,178.1 456.5,175.9 462.9,179.0 463.4,176.8 469.7,179.8 470.2,177.6 476.5,180.7 477.0,178.5 477.0,179.6" fill="none" stroke="#ff8c1a" stroke-width="1.4" stroke-linejoin="round" stroke-linecap="round" />
<polyline points="379.0,159.6 402.0,157.6 408.4,159.9 408.9,157.7 415.2,161.0 415.7,158.8 422.1,162.2 422.6,160.0 428.9,163.4 429.4,161.2 435.8,164.5 436.3,162.3 442.6,165.7 443.1,163.5 449.5,166.8 450.0,164.6 456.3,168.0 456.8,165.8 463.2,169.2 463.7,167.0 470.0,170.3 470.5,168.1 476.9,171.5 477.4,169.3 477.4,170.4" fill="none" stroke="#1f77c0" stroke-width="1.4" stroke-linejoin="round" stroke-linecap="round" />
<line x1="346.1" y1="132.3" x2="492" y2="132.3" stroke="#fa1e1e" stroke-width="1.6" stroke-dasharray="4 2.6"/>
<polyline points="359.0,201.5 378.0,129.6" fill="none" stroke="#ff8c1a" stroke-width="1.2" stroke-linejoin="round" stroke-linecap="butt" stroke-dasharray="2 0.8" />
<polyline points="359.0,201.5 379.0,159.4 402.0,131.8 406.4,132.0 407.0,129.4 408.7,132.0 413.1,132.0 413.7,129.4 415.4,132.0 419.8,132.0 420.4,129.4 422.0,132.0 426.4,132.0 427.0,129.4 428.7,132.0 433.1,132.0 433.7,129.4 435.4,132.0 439.8,132.0 440.4,129.4 442.1,132.0 446.5,132.0 447.1,129.4 448.8,132.0 453.2,132.0 453.8,129.4 455.5,132.0 459.9,132.0 460.5,129.4 462.1,132.0 466.5,132.0 467.1,129.4 468.8,132.0 473.2,132.0 473.8,129.4 475.5,132.0" fill="none" stroke="#ff66c4" stroke-width="1.0" stroke-linejoin="round" stroke-linecap="round" />
<polyline points="378.0,129.6 402.0,131.0 405.6,131.6 406.2,128.2 408.7,131.6 412.3,131.6 412.9,128.2 415.4,131.6 419.0,131.6 419.6,128.2 422.0,131.6 425.6,131.6 426.2,128.2 428.7,131.6 432.3,131.6 432.9,128.2 435.4,131.6 439.0,131.6 439.6,128.2 442.1,131.6 445.7,131.6 446.3,128.2 448.8,131.6 452.4,131.6 453.0,128.2 455.5,131.6 459.1,131.6 459.7,128.2 462.1,131.6 465.7,131.6 466.3,128.2 468.8,131.6 472.4,131.6 473.0,128.2 475.5,131.6" fill="none" stroke="#ff8c1a" stroke-width="1.2" stroke-linejoin="round" stroke-linecap="round" />
<polyline points="359.0,201.5 379.0,159.6" fill="none" stroke="#1f77c0" stroke-width="1.6" stroke-linejoin="round" stroke-linecap="butt" stroke-dasharray="1.8 0.8" />
<text x="429" y="106" font-family='"DejaVu Serif","Liberation Serif",serif' font-size="9" font-weight="bold" font-style="italic" fill="#000">λ</text>
<text x="428.6" y="117.6" font-family='"DejaVu Serif","Liberation Serif",serif' font-size="9" font-weight="bold" font-style="italic" fill="#000" textLength="41.4" lengthAdjust="spacingAndGlyphs">Sparsity</text>
<path d="M443.4,106.2 C445.0,104.2 445.79999999999995,102.60000000000001 446.0,101.2" fill="none" stroke="#ec2028" stroke-width="1.5" stroke-linecap="round"/>
<path d="M447.29999999999995,98.8 L449.0,103.2 L443.79999999999995,102.2 Z" fill="#ec2028"/>
<path d="M475.4,117.6 C477.0,115.6 477.79999999999995,114.0 478.0,112.6" fill="none" stroke="#ec2028" stroke-width="1.5" stroke-linecap="round"/>
<path d="M479.29999999999995,110.19999999999999 L481.0,114.6 L475.79999999999995,113.6 Z" fill="#ec2028"/>
<path d="M478.6,126.39999999999999 L480.8,129.2 L485.40000000000003,122.6" fill="none" stroke="#f01c1c" stroke-width="1.3" stroke-linecap="round" stroke-linejoin="round"/>
<rect x="494.4" y="74.4" width="30.2" height="165.6" fill="#d4d4d4"/>
<rect x="494.2" y="73.9" width="29.2" height="165.4" fill="#fff" stroke="#a8a8a8" stroke-width="1"/>
<line x1="494.9" y1="78.7" x2="509.3" y2="78.7" stroke="#ffa0a8" stroke-width="0.9"/>
<circle cx="502.1" cy="78.7" r="0.8" fill="#e8202a"/>
<text x="511.2" y="81.0" font-family='"Liberation Serif",serif' font-size="6.8" font-weight="bold" font-style="normal" fill="#000" text-anchor="start" stroke="#000" stroke-width="0.2">D1</text>
<line x1="494.9" y1="86.9" x2="509.3" y2="86.9" stroke="#a9d4f0" stroke-width="0.9"/>
<circle cx="502.1" cy="86.9" r="0.8" fill="#1f77c0"/>
<text x="511.2" y="89.2" font-family='"Liberation Serif",serif' font-size="6.8" font-weight="bold" font-style="normal" fill="#000" text-anchor="start" stroke="#000" stroke-width="0.2">D2</text>
<line x1="494.9" y1="95.1" x2="509.3" y2="95.1" stroke="#9fe0a8" stroke-width="0.9"/>
<circle cx="502.1" cy="95.1" r="0.8" fill="#3cb85a"/>
<text x="511.2" y="97.4" font-family='"Liberation Serif",serif' font-size="6.8" font-weight="bold" font-style="normal" fill="#000" text-anchor="start" stroke="#000" stroke-width="0.2">D3</text>
<line x1="494.9" y1="103.3" x2="509.3" y2="103.3" stroke="#dcaaf0" stroke-width="0.9"/>
<circle cx="502.1" cy="103.3" r="0.8" fill="#a050c8"/>
<text x="511.2" y="105.6" font-family='"Liberation Serif",serif' font-size="6.8" font-weight="bold" font-style="normal" fill="#000" text-anchor="start" stroke="#000" stroke-width="0.2">D4</text>
<line x1="494.9" y1="111.5" x2="509.3" y2="111.5" stroke="#ffc08a" stroke-width="0.9"/>
<circle cx="502.1" cy="111.5" r="0.8" fill="#ff8c1a"/>
<text x="511.2" y="113.8" font-family='"Liberation Serif",serif' font-size="6.8" font-weight="bold" font-style="normal" fill="#000" text-anchor="start" stroke="#000" stroke-width="0.2">D5</text>
<line x1="494.9" y1="119.8" x2="509.3" y2="119.8" stroke="#fff27a" stroke-width="0.9"/>
<circle cx="502.1" cy="119.8" r="0.8" fill="#f5e616"/>
<text x="511.2" y="122.0" font-family='"Liberation Serif",serif' font-size="6.8" font-weight="bold" font-style="normal" fill="#000" text-anchor="start" stroke="#000" stroke-width="0.2">D6</text>
<line x1="494.9" y1="128.0" x2="509.3" y2="128.0" stroke="#e8b79a" stroke-width="0.9"/>
<circle cx="502.1" cy="128.0" r="0.8" fill="#b8694a"/>
<text x="511.2" y="130.2" font-family='"Liberation Serif",serif' font-size="6.8" font-weight="bold" font-style="normal" fill="#000" text-anchor="start" stroke="#000" stroke-width="0.2">D7</text>
<line x1="494.9" y1="136.2" x2="509.3" y2="136.2" stroke="#ffb3dc" stroke-width="0.9"/>
<circle cx="502.1" cy="136.2" r="0.8" fill="#ff5cb8"/>
<text x="511.2" y="138.4" font-family='"Liberation Serif",serif' font-size="6.8" font-weight="bold" font-style="normal" fill="#000" text-anchor="start" stroke="#000" stroke-width="0.2">D8</text>
<line x1="494.9" y1="144.4" x2="509.3" y2="144.4" stroke="#cfcfcf" stroke-width="0.9"/>
<circle cx="502.1" cy="144.4" r="0.8" fill="#8c8c8c"/>
<text x="511.2" y="146.6" font-family='"Liberation Serif",serif' font-size="6.8" font-weight="bold" font-style="normal" fill="#000" text-anchor="start" stroke="#000" stroke-width="0.2">D9</text>
<line x1="494.9" y1="152.6" x2="509.3" y2="152.6" stroke="#ff8088" stroke-width="0.9"/>
<circle cx="502.1" cy="152.6" r="0.8" fill="#e8202a"/>
<text x="511.2" y="154.8" font-family='"Liberation Serif",serif' font-size="6.8" font-weight="bold" font-style="normal" fill="#000" text-anchor="start" stroke="#000" stroke-width="0.2">D10</text>
<line x1="494.9" y1="160.8" x2="509.3" y2="160.8" stroke="#7cc0ea" stroke-width="0.9"/>
<circle cx="502.1" cy="160.8" r="0.8" fill="#1f77c0"/>
<text x="511.2" y="163.1" font-family='"Liberation Serif",serif' font-size="6.8" font-weight="bold" font-style="normal" fill="#000" text-anchor="start" stroke="#000" stroke-width="0.2">D11</text>
<line x1="494.9" y1="169.0" x2="509.3" y2="169.0" stroke="#a8e6b4" stroke-width="0.9"/>
<circle cx="502.1" cy="169.0" r="0.8" fill="#5ccf78"/>
<text x="511.2" y="171.3" font-family='"Liberation Serif",serif' font-size="6.8" font-weight="bold" font-style="normal" fill="#000" text-anchor="start" stroke="#000" stroke-width="0.2">D12</text>
<line x1="494.9" y1="177.2" x2="509.3" y2="177.2" stroke="#dcb0ea" stroke-width="0.9"/>
<circle cx="502.1" cy="177.2" r="0.8" fill="#b070d0"/>
<text x="511.2" y="179.5" font-family='"Liberation Serif",serif' font-size="6.8" font-weight="bold" font-style="normal" fill="#000" text-anchor="start" stroke="#000" stroke-width="0.2">D13</text>
<line x1="494.9" y1="185.4" x2="509.3" y2="185.4" stroke="#ffb070" stroke-width="0.9"/>
<circle cx="502.1" cy="185.4" r="0.8" fill="#ff8c1a"/>
<text x="511.2" y="187.7" font-family='"Liberation Serif",serif' font-size="6.8" font-weight="bold" font-style="normal" fill="#000" text-anchor="start" stroke="#000" stroke-width="0.2">D14</text>
<line x1="494.9" y1="193.6" x2="509.3" y2="193.6" stroke="#fff48a" stroke-width="0.9"/>
<circle cx="502.1" cy="193.6" r="0.8" fill="#fae830"/>
<text x="511.2" y="195.9" font-family='"Liberation Serif",serif' font-size="6.8" font-weight="bold" font-style="normal" fill="#000" text-anchor="start" stroke="#000" stroke-width="0.2">D15</text>
<line x1="494.9" y1="201.9" x2="509.3" y2="201.9" stroke="#f0b898" stroke-width="0.9"/>
<circle cx="502.1" cy="201.9" r="0.8" fill="#e09870"/>
<text x="511.2" y="204.1" font-family='"Liberation Serif",serif' font-size="6.8" font-weight="bold" font-style="normal" fill="#000" text-anchor="start" stroke="#000" stroke-width="0.2">D16</text>
<line x1="494.9" y1="210.1" x2="509.3" y2="210.1" stroke="#ffb8e6" stroke-width="0.9" stroke-dasharray="1.2 0.8"/>
<circle cx="502.1" cy="210.1" r="0.8" fill="#ff5cc8"/>
<text x="511.2" y="212.3" font-family='"Liberation Serif",serif' font-size="6.8" font-weight="bold" font-style="normal" fill="#000" text-anchor="start" stroke="#000" stroke-width="0.2">D17</text>
<line x1="494.9" y1="218.3" x2="509.3" y2="218.3" stroke="#c8c8c8" stroke-width="0.9"/>
<circle cx="502.1" cy="218.3" r="0.8" fill="#909090"/>
<text x="511.2" y="220.5" font-family='"Liberation Serif",serif' font-size="6.8" font-weight="bold" font-style="normal" fill="#000" text-anchor="start" stroke="#000" stroke-width="0.2">D18</text>
<line x1="494.9" y1="226.5" x2="509.3" y2="226.5" stroke="#ff7078" stroke-width="0.9"/>
<circle cx="502.1" cy="226.5" r="0.8" fill="#e8202a"/>
<text x="511.2" y="228.7" font-family='"Liberation Serif",serif' font-size="6.8" font-weight="bold" font-style="normal" fill="#000" text-anchor="start" stroke="#000" stroke-width="0.2">D19</text>
<line x1="494.9" y1="234.7" x2="509.3" y2="234.7" stroke="#7cc0ea" stroke-width="0.9"/>
<circle cx="502.1" cy="234.7" r="0.8" fill="#1f77c0"/>
<text x="511.2" y="236.9" font-family='"Liberation Serif",serif' font-size="6.8" font-weight="bold" font-style="normal" fill="#000" text-anchor="start" stroke="#000" stroke-width="0.2">D20</text>
<rect x="526.4" y="107.4" width="18.6" height="77.8" fill="#c6c6c6"/>
<rect x="525" y="106" width="18.7" height="77.8" fill="#fff"/>
<text transform="translate(530.6,108.5) rotate(90)" font-family='"Liberation Sans",sans-serif' font-size="11" font-weight="bold" textLength="66.4" lengthAdjust="spacingAndGlyphs">Dictionary Set</text>
</svg>
</body></html>
